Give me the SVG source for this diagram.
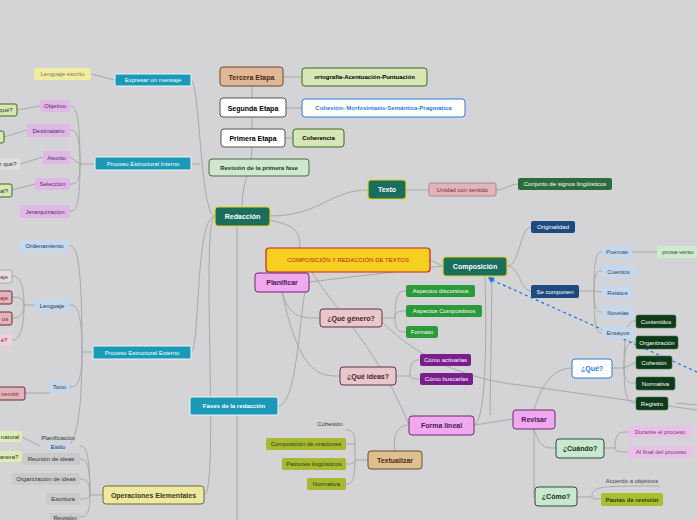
<svg xmlns="http://www.w3.org/2000/svg" width="697" height="520" viewBox="0 0 697 520">
<style>
text{font-family:"Liberation Sans",Arial,sans-serif;font-size:6px;text-anchor:middle;dominant-baseline:central}
.c path{fill:none;stroke:#a9a9ab;stroke-width:1}
.b{font-weight:bold;font-size:7px}
.w{fill:#fff}
</style>
<rect width="697" height="520" fill="#d4d4d6"/>
<g class="c">
<path d="M242 207 C242 180 252 170 252 147 M252 147 L252 86 M252 117 L252 117"/>
<path d="M283 77 L302 77 M286 108 L302 108 M285 138 L293 138"/>
<path d="M270 216 C320 216 330 190 368 190 M406 190 L429 190 M496 190 C505 190 510 184 518 184"/>
<path d="M215 216 C200 216 200 80 191 80 M115 80 L91 74 M200 164 L191 164"/>
<path d="M95 164 L80 164 M80 164 C80 110 75 106 70 106 M80 164 C80 132 75 130 70 130 M80 164 L70 157 M80 164 C80 184 75 184 70 184 M80 164 C80 211 75 211 70 211 M40 106 L17 110 M27 130 L4 137 M43 157 L20 164 M35 184 L12 190"/>
<path d="M215 216 C195 216 200 352 191 352 M93 352 L82 352 M82 352 C82 246 75 246 69 246 M82 352 C82 305 75 305 69 305 M82 352 C82 387 75 387 69 387 M82 352 C82 420 75 438 70 444 M35 305 L24 305 C24 276 15 276 12 276 M24 305 C24 297 15 297 12 297 M24 305 C24 318 15 318 12 318 M24 305 C24 340 15 340 12 340 M50 393 L25 393"/>
<path d="M237 226 L237 397"/>
<path d="M215 216 C200 216 220 495 204 495 M103 495 L90 495 M90 495 C90 450 85 446 80 446 M90 495 C90 460 85 459 80 459 M90 495 C90 480 85 479 80 479 M90 495 C90 498 85 499 80 499 M90 495 C90 515 85 517 80 517 M40 446 L22 437 M22 459 L12 456"/>
<path d="M278 406 C300 406 300 282 309 282 M309 282 L443 266 M430 260 L443 266 M282 292 C290 318 300 318 320 318 M282 292 C300 376 320 376 340 376 M382 318 L395 318 C395 291 400 291 406 291 M395 318 C395 311 400 311 406 311 M395 318 C395 332 400 332 406 332 M396 376 L410 376 C410 360 415 360 420 360 M410 376 C410 379 415 379 420 379 M382 322 C420 360 470 380 520 385 L697 410"/>
<path d="M300 248 C300 230 295 226 270 220 M300 248 C320 300 370 330 409 425"/>
<path d="M507 266 C520 266 520 227 531 227 M507 266 C520 266 520 291 531 291 M579 291 L594 291 M594 291 C594 252 598 252 602 252 M594 291 C594 271 598 271 602 271 M594 291 L602 292 M594 291 C594 312 598 312 602 312 M594 291 C594 333 598 333 602 333 M632 252 L657 252"/>
<path d="M474 425 C490 420 485 280 485 276 M490 415 L492 276 M474 425 L513 419 M534 410 C540 390 550 368 572 368 M612 368 L624 368 C624 321 630 321 636 321 M624 368 C624 342 630 342 636 342 M624 368 L636 362 M624 368 C624 383 630 383 636 383 M624 368 C624 403 630 403 636 403 M676 403 L697 405 M534 429 C540 448 545 448 556 448 M534 429 L534 497 L535 497 M604 448 L615 448 C615 432 620 432 628 432 M615 448 C615 452 620 452 628 452 M577 497 L592 497 C592 486 600 486 660 486 M592 497 C592 499 596 499 601 499"/>
<path d="M237 415 L237 520 M368 460 L355 460 L355 444 C355 430 350 430 345 430 M355 444 L346 444 M355 460 C355 464 350 464 346 464 M355 460 C355 484 350 484 346 484 M409 425 C390 425 395 451 395 451"/>
</g>
<path d="M492 280 L697 372" fill="none" stroke="#1a73e8" stroke-width="1.2" stroke-dasharray="3,3"/>
<path d="M488 277 L495 278 L491 283 Z" fill="#1a73e8"/>

<g id="tercera"><rect x="220" y="67" width="63" height="19" rx="3" fill="#e0b898" stroke="#6b4a30"/><text x="251.5" y="77" class="b" fill="#4a2a10">Tercera Etapa</text></g>
<g id="orto"><rect x="302" y="68" width="125" height="18" rx="3" fill="#d6e6b4" stroke="#3a6a20"/><text x="364.5" y="77" font-weight="bold">ortografía-Acentuación-Puntuación</text></g>
<g id="segunda"><rect x="220" y="98" width="66" height="19" rx="3" fill="#fff" stroke="#555"/><text x="253" y="108" class="b">Segunda Etapa</text></g>
<g id="cohesion1"><rect x="302" y="99" width="163" height="18" rx="3" fill="#fff" stroke="#2a7ae2"/><text x="383.5" y="108" font-weight="bold" fill="#2a7ae2">Cohesión- Morfosintaxis-Semántica-Pragmática</text></g>
<g id="primera"><rect x="221" y="129" width="64" height="18" rx="3" fill="#fff" stroke="#555"/><text x="253" y="138" class="b">Primera Etapa</text></g>
<g id="coherencia"><rect x="293" y="129" width="51" height="18" rx="3" fill="#d6e6b4" stroke="#3a6a20"/><text x="318.5" y="138" font-weight="bold">Coherencia</text></g>
<g id="revprimera"><rect x="209" y="159" width="100" height="17" rx="3" fill="#cfe6cf" stroke="#4a6a4a"/><text x="259" y="167.5" font-weight="bold" fill="#1a3a1a">Revisión de la primera fase</text></g>
<g id="redaccion"><rect x="215" y="207" width="55" height="19" rx="3" fill="#1a6e5c" stroke="#e8d020" stroke-width="1.2"/><text x="242.5" y="216.5" class="b w">Redacción</text></g>
<g id="texto"><rect x="368" y="180" width="38" height="19" rx="3" fill="#1a6e5c" stroke="#e8d020" stroke-width="1.2"/><text x="387" y="189.5" class="b w">Texto</text></g>
<g id="unidad"><rect x="429" y="183" width="67" height="13" rx="2" fill="#e0b4b8" stroke="#a88"/><text x="462.5" y="189.5" fill="#7a2a3a">Unidad con sentido</text></g>
<g id="conjunto"><rect x="518" y="178" width="94" height="12" rx="2" fill="#2d6b3a"/><text x="565" y="184" class="w" font-size="5.5">Conjunto de signos lingüísticos</text></g>
<g id="central"><rect x="266" y="248" width="164" height="24" rx="3" fill="#f5d020" stroke="#d02020" stroke-width="1.2"/><text x="348" y="260" fill="#c02020" font-size="6.5">COMPOSICIÓN Y REDACCIÓN DE TEXTOS</text></g>
<g id="composicion"><rect x="443" y="257" width="64" height="19" rx="3" fill="#1a6e5c" stroke="#e8d020" stroke-width="1.2"/><text x="475" y="266.5" class="b w">Composición</text></g>
<g id="originalidad"><rect x="531" y="221" width="44" height="12" rx="2" fill="#1f4a80"/><text x="553" y="227" class="w">Originalidad</text></g>
<g id="secomponen"><rect x="531" y="285" width="48" height="13" rx="2" fill="#1f4a80"/><text x="555" y="291.5" class="w">Se componen</text></g>
<g id="poemas"><rect x="602" y="246" width="30" height="12" rx="2" fill="#c4d8f0"/><text x="617" y="252" fill="#444">Poemas</text></g>
<g id="prosa"><rect x="657" y="246" width="45" height="12" rx="2" fill="#cdeccd"/><text x="678" y="252" fill="#444">prosa-verso</text></g>
<g id="cuentos"><rect x="602" y="265" width="33" height="13" rx="2" fill="#c4d8f0"/><text x="618.5" y="271.5" fill="#444">Cuentos</text></g>
<g id="relatos"><rect x="602" y="286" width="31" height="13" rx="2" fill="#c4d8f0"/><text x="617.5" y="292.5" fill="#444">Relatos</text></g>
<g id="novelas"><rect x="602" y="306" width="32" height="13" rx="2" fill="#c4d8f0"/><text x="618" y="312.5" fill="#444">Novelas</text></g>
<g id="ensayos"><rect x="602" y="327" width="32" height="12" rx="2" fill="#c4d8f0"/><text x="618" y="333" fill="#444">Ensayos</text></g>
<g id="contenidos"><rect x="636" y="315" width="40" height="13" rx="2" fill="#0e3a1a" stroke="#4a7a4a" stroke-width="0.6"/><text x="656" y="321.5" class="w">Contenidos</text></g>
<g id="organizacion"><rect x="636" y="336" width="42" height="13" rx="2" fill="#0e3a1a" stroke="#4a7a4a" stroke-width="0.6"/><text x="657" y="342.5" class="w">Organización</text></g>
<g id="cohesion2"><rect x="636" y="356" width="36" height="13" rx="2" fill="#0e3a1a" stroke="#4a7a4a" stroke-width="0.6"/><text x="654" y="362.5" class="w">Cohesión</text></g>
<g id="normativa1"><rect x="636" y="377" width="39" height="13" rx="2" fill="#0e3a1a" stroke="#4a7a4a" stroke-width="0.6"/><text x="655.5" y="383.5" class="w">Normativa</text></g>
<g id="registro"><rect x="636" y="397" width="32" height="13" rx="2" fill="#0e3a1a" stroke="#4a7a4a" stroke-width="0.6"/><text x="652" y="403.5" class="w">Registro</text></g>
<g id="que"><rect x="572" y="359" width="40" height="19" rx="3" fill="#fff" stroke="#2a7ae2"/><text x="592" y="368.5" class="b" fill="#2a7ae2">¿Qué?</text></g>
<g id="planificar"><rect x="255" y="273" width="54" height="19" rx="3" fill="#f0a8f0" stroke="#6a2a6a"/><text x="282" y="282.5" class="b" fill="#4a1a4a">Planificar</text></g>
<g id="genero"><rect x="320" y="309" width="62" height="18" rx="3" fill="#e8c8cc" stroke="#6a2a3a"/><text x="351" y="318" class="b" fill="#4a1a2a">¿Qué género?</text></g>
<g id="discursivos"><rect x="406" y="285" width="69" height="12" rx="2" fill="#2a9a3a"/><text x="440.5" y="291" class="w">Aspectos discursivos</text></g>
<g id="compositivos"><rect x="406" y="305" width="76" height="12" rx="2" fill="#2a9a3a"/><text x="444" y="311" class="w">Aspectos Compositivos</text></g>
<g id="formato"><rect x="406" y="326" width="32" height="12" rx="2" fill="#2a9a3a"/><text x="422" y="332" class="w">Formato</text></g>
<g id="ideas"><rect x="340" y="367" width="56" height="18" rx="3" fill="#e8c8cc" stroke="#6a2a3a"/><text x="368" y="376" class="b" fill="#4a1a2a">¿Qué ideas?</text></g>
<g id="activarlas"><rect x="420" y="354" width="51" height="12" rx="2" fill="#7a1e8e"/><text x="445.5" y="360" class="w">Cómo activarlas</text></g>
<g id="buscarlas"><rect x="420" y="373" width="53" height="12" rx="2" fill="#7a1e8e"/><text x="446.5" y="379" class="w">Cómo buscarlas</text></g>
<g id="fases"><rect x="190" y="397" width="88" height="18" rx="2" fill="#1a9ab8" stroke="#e8f4f8"/><text x="234" y="406" class="w" font-weight="bold">Fases de la redacción</text></g>
<g id="formalineal"><rect x="409" y="416" width="65" height="19" rx="3" fill="#f0a8f0" stroke="#6a2a6a"/><text x="441.5" y="425.5" class="b" fill="#4a1a4a">Forma lineal</text></g>
<g id="revisar"><rect x="513" y="410" width="42" height="19" rx="3" fill="#f0a8f0" stroke="#6a2a6a"/><text x="534" y="419.5" class="b" fill="#4a1a4a">Revisar</text></g>
<g id="cuando"><rect x="556" y="439" width="48" height="19" rx="3" fill="#c8e8d0" stroke="#2a4a3a"/><text x="580" y="448.5" class="b" fill="#1a2a1a">¿Cuándo?</text></g>
<g id="durante"><rect x="628" y="426" width="64" height="12" rx="2" fill="#e8c0e8"/><text x="660" y="432" fill="#7a3a7a">Durante el proceso</text></g>
<g id="alfinal"><rect x="628" y="446" width="66" height="12" rx="2" fill="#e8c0e8"/><text x="661" y="452" fill="#7a3a7a">Al final del proceso</text></g>
<g id="como"><rect x="535" y="487" width="42" height="19" rx="3" fill="#c8e8d0" stroke="#2a4a3a"/><text x="556" y="496.5" class="b" fill="#1a2a1a">¿Cómo?</text></g>
<g id="acuerdo"><text x="632" y="481" fill="#444">Acuerdo a objetivos</text></g>
<g id="pautas"><rect x="601" y="493" width="62" height="13" rx="2" fill="#a8c030"/><text x="632" y="499.5" font-weight="bold" fill="#2a3a10">Pautas de revisión</text></g>
<g id="textualizar"><rect x="368" y="451" width="54" height="18" rx="3" fill="#e0c090" stroke="#6b4a30"/><text x="395" y="460" class="b" fill="#4a2a10">Textualizar</text></g>
<g id="cohesion3"><text x="330" y="424" fill="#333">Cohesión</text></g>
<g id="oraciones"><rect x="266" y="438" width="80" height="12" rx="2" fill="#a8b830"/><text x="306" y="444" fill="#2a3a10">Composición de oraciones</text></g>
<g id="patrones"><rect x="282" y="458" width="64" height="12" rx="2" fill="#a8b830"/><text x="314" y="464" fill="#2a3a10">Patrones lingüísticos</text></g>
<g id="normativa2"><rect x="307" y="478" width="39" height="12" rx="2" fill="#a8b830"/><text x="326.5" y="484" fill="#2a3a10">Normativa</text></g>
<g id="operaciones"><rect x="103" y="486" width="101" height="18" rx="3" fill="#eee8a0" stroke="#6a6a3a"/><text x="153.5" y="495" class="b" fill="#3a3a1a">Operaciones Elementales</text></g>
<g id="planificacion"><text x="58" y="438" fill="#333">Planificación</text></g>
<g id="estilo"><rect x="48" y="443" width="20" height="8" rx="2" fill="#c4d8f0"/><text x="58" y="447" fill="#333">Estilo</text></g>
<g id="reunion"><rect x="22" y="453" width="58" height="12" rx="2" fill="#cacaca"/><text x="51" y="459" fill="#333">Reunión de ideas</text></g>
<g id="orgideas"><rect x="12" y="473" width="68" height="12" rx="2" fill="#cacaca"/><text x="46" y="479" fill="#333">Organización de ideas</text></g>
<g id="escritura"><rect x="46" y="493" width="34" height="12" rx="2" fill="#cacaca"/><text x="63" y="499" fill="#333">Escritura</text></g>
<g id="revision"><rect x="50" y="513" width="30" height="10" rx="2" fill="#cacaca"/><text x="65" y="518" fill="#333">Revisión</text></g>
<g id="natural"><rect x="-4" y="431" width="26" height="11" rx="2" fill="#dcecb4"/><text x="10" y="436.5" fill="#333">natural</text></g>
<g id="manera"><rect x="-4" y="451" width="26" height="11" rx="2" fill="#dcecb4"/><text x="9" y="456.5" fill="#333">anera?</text></g>
<g id="externo"><rect x="93" y="346" width="98" height="13" rx="1" fill="#1a9ab8" stroke="#e8f4f8"/><text x="142" y="352.5" class="w">Proceso Estructural Externo</text></g>
<g id="ordenamiento"><rect x="20" y="240" width="49" height="12" rx="2" fill="#c4d8f0"/><text x="44.5" y="246" fill="#333">Ordenamiento</text></g>
<g id="lenguaje"><rect x="35" y="299" width="34" height="13" rx="2" fill="#c4d8f0"/><text x="52" y="305.5" fill="#333">Lenguaje</text></g>
<g id="tono"><rect x="50" y="381" width="19" height="12" rx="2" fill="#c4d8f0"/><text x="59.5" y="387" fill="#333">Tono</text></g>
<g id="aje1"><rect x="-4" y="270" width="16" height="13" rx="2" fill="#e0e0e0" stroke="#aaa"/><text x="4" y="276.5" fill="#7a2a3a">aje</text></g>
<g id="aje2"><rect x="-4" y="291" width="16" height="13" rx="2" fill="#e0b4b8" stroke="#6a2a3a"/><text x="4" y="297.5" fill="#7a2a3a">aje</text></g>
<g id="us"><rect x="-4" y="312" width="16" height="13" rx="2" fill="#e0b4b8" stroke="#6a2a3a"/><text x="5" y="318.5" fill="#7a2a3a">us</text></g>
<g id="e"><rect x="-4" y="334" width="16" height="12" rx="2" fill="#f0d0d8"/><text x="4" y="340" fill="#7a2a3a">é?</text></g>
<g id="nemitir"><rect x="-4" y="387" width="29" height="13" rx="2" fill="#e0b4b8" stroke="#6a2a3a"/><text x="10" y="393.5" fill="#7a2a3a">nemitir</text></g>
<g id="interno"><rect x="95" y="157" width="96" height="13" rx="1" fill="#1a9ab8" stroke="#e8f4f8"/><text x="143" y="163.5" class="w">Proceso Estructural Interno</text></g>
<g id="expresar"><rect x="115" y="74" width="76" height="12" rx="1" fill="#1a9ab8" stroke="#e8f4f8"/><text x="153" y="80" class="w">Expresar un mensaje</text></g>
<g id="lescrito"><rect x="34" y="68" width="57" height="12" rx="2" fill="#f0eca0"/><text x="62.5" y="74" fill="#777">Lenguaje escrito</text></g>
<g id="objetivo"><rect x="40" y="100" width="30" height="12" rx="2" fill="#e0b8e8"/><text x="55" y="106" fill="#5a2a5a">Objetivo</text></g>
<g id="destinatario"><rect x="27" y="124" width="43" height="13" rx="2" fill="#e0b8e8"/><text x="48.5" y="130.5" fill="#5a2a5a">Destinatario</text></g>
<g id="asunto"><rect x="43" y="151" width="27" height="13" rx="2" fill="#e0b8e8"/><text x="56.5" y="157.5" fill="#5a2a5a">Asunto</text></g>
<g id="seleccion"><rect x="35" y="178" width="35" height="12" rx="2" fill="#e0b8e8"/><text x="52.5" y="184" fill="#5a2a5a">Selección</text></g>
<g id="jerarquizacion"><rect x="20" y="205" width="50" height="13" rx="2" fill="#e0b8e8"/><text x="45" y="211.5" fill="#5a2a5a">Jerarquización</text></g>
<g id="pq"><rect x="-4" y="104" width="21" height="12" rx="2" fill="#d6e6b4" stroke="#3a6a20"/><text x="6" y="110" fill="#333">qué?</text></g>
<g id="dq"><rect x="-4" y="131" width="8" height="12" rx="2" fill="#d6e6b4" stroke="#3a6a20"/></g>
<g id="rq"><rect x="-4" y="158" width="24" height="12" rx="2" fill="#dedede"/><text x="8" y="164" fill="#333">r qué?</text></g>
<g id="cual"><rect x="-4" y="184" width="16" height="13" rx="2" fill="#d6e6b4" stroke="#3a6a20"/><text x="4" y="190.5" fill="#333">al?</text></g>
</svg>
